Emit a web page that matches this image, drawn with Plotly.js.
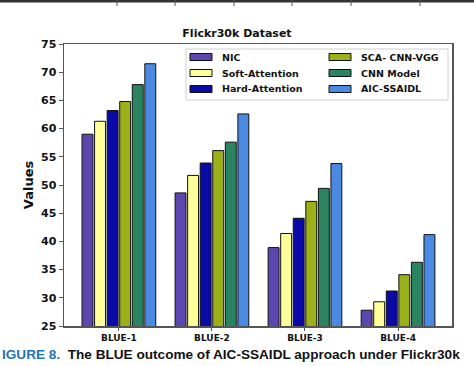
<!DOCTYPE html>
<html>
<head>
<meta charset="utf-8">
<script src="https://cdn.plot.ly/plotly-3.0.1.min.js"></script>
<style>html,body{margin:0;padding:0;background:#fff;}#chart{width:474px;height:366px;}</style>
</head>
<body>
<div id="chart"></div>
<script>
var categories = ["BLUE-1", "BLUE-2", "BLUE-3", "BLUE-4"];
var seriesNames = ["NIC", "Soft-Attention", "Hard-Attention", "SCA- CNN-VGG", "CNN Model", "AIC-SSAIDL"];
var nicValues = [59.0, 48.6, 38.9, 27.8];
var softValues = [61.3, 51.7, 41.4, 29.3];
var hardValues = [63.2, 53.9, 44.1, 31.2];
var scaValues = [64.8, 56.1, 47.1, 34.1];
var cnnValues = [67.8, 57.6, 49.4, 36.3];
var aicValues = [71.5, 62.6, 53.8, 41.2];
var seriesColors = ["#5b47ad", "#ffff99", "#0a0aa6", "#9cb01a", "#2a8460", "#4a8ae0"];
var yTicks = [25, 30, 35, 40, 45, 50, 55, 60, 65, 70, 75];

var allValues = [nicValues, softValues, hardValues, scaValues, cnnValues, aicValues];

// pixel -> paper helpers (plot area 64..452 x 44..326)
var L = 64, R = 452, T = 44, B = 326;
function px(x) { return (x - L) / (R - L); }
function py(y) { return (B - y) / (B - T); }

var traces = allValues.map(function (vals, i) {
  return {
    type: "bar",
    name: seriesNames[i],
    x: categories,
    y: vals,
    base: 0,
    marker: { color: seriesColors[i], line: { color: "#111", width: 1 } },
    showlegend: false,
    hoverinfo: "x+y+name"
  };
});

var shapes = [];
var annotations = [];

// legend box
shapes.push({ type: "rect", xref: "paper", yref: "paper", x0: px(186), x1: px(448), y0: py(100), y1: py(49),
  line: { color: "#d0d0d0", width: 1 }, fillcolor: "rgba(255,255,255,0.85)", layer: "above" });
var colX = [190, 329];
var rowY = [57, 73, 89];
seriesNames.forEach(function (name, i) {
  var c = Math.floor(i / 3), r = i % 3;
  var sx = colX[c], sy = rowY[r];
  shapes.push({ type: "rect", xref: "paper", yref: "paper", x0: px(sx), x1: px(sx + 22), y0: py(sy + 3.5), y1: py(sy - 3.5),
    line: { color: "#111", width: 1 }, fillcolor: seriesColors[i], layer: "above" });
  annotations.push({ xref: "paper", yref: "paper", x: px(sx + 30), y: py(sy), xanchor: "left", yanchor: "middle",
    text: name, showarrow: false, font: { family: "DejaVu Sans", size: 9.5, color: "#111", weight: "bold" } });
});

// top border of the page's table
shapes.push({ type: "line", xref: "paper", yref: "paper", x0: px(0), x1: px(474), y0: py(1), y1: py(1),
  line: { color: "#333", width: 3 } });
[117, 175, 234, 292, 351, 420].forEach(function (x) {
  shapes.push({ type: "line", xref: "paper", yref: "paper", x0: px(x), x1: px(x), y0: py(0), y1: py(6),
    line: { color: "#555", width: 1 } });
});

// caption
annotations.push({ xref: "paper", yref: "paper", x: px(0), y: py(354), xanchor: "left", yanchor: "middle",
  showarrow: false,
  text: "<span style='color:#1f72b8;font-weight:bold'><b>IGURE 8.</b></span><b>  The BLUE outcome of AIC-SSAIDL approach under Flickr30k</b>",
  font: { family: "Liberation Sans", size: 13.6, color: "#111", weight: "bold" } });

var layout = {
  width: 474, height: 366,
  margin: { l: L, r: 474 - R, t: T, b: 366 - B, pad: 0 },
  paper_bgcolor: "#fff", plot_bgcolor: "#fff",
  barmode: "group", bargap: 0.19, bargroupgap: 0.13,
  title: { text: "<b>Flickr30k Dataset</b>", x: px(258), xanchor: "center", y: 1 - 33 / 366, yanchor: "middle",
    font: { family: "DejaVu Sans", size: 11, color: "#111" } },
  xaxis: {
    type: "category", range: [-0.59, 3.58],
    showline: true, linecolor: "#555", linewidth: 1.5, mirror: true,
    ticks: "outside", ticklen: 3, tickcolor: "#555",
    tickfont: { family: "DejaVu Sans", size: 9, color: "#111", weight: "bold" },
    showgrid: false, zeroline: false
  },
  yaxis: {
    range: [25, 75], tickvals: yTicks, ticktext: yTicks.map(String),
    showline: true, linecolor: "#555", linewidth: 1.5, mirror: true,
    ticks: "outside", ticklen: 4, tickcolor: "#555",
    tickfont: { family: "DejaVu Sans", size: 11, color: "#111", weight: "bold" },
    showgrid: false, zeroline: false,
    title: { text: "<b>Values</b>", standoff: 4, font: { family: "DejaVu Sans", size: 13, color: "#111" } }
  },
  shapes: shapes,
  annotations: annotations
};

Plotly.newPlot("chart", traces, layout, { displayModeBar: false, staticPlot: true });
</script>
</body>
</html>
